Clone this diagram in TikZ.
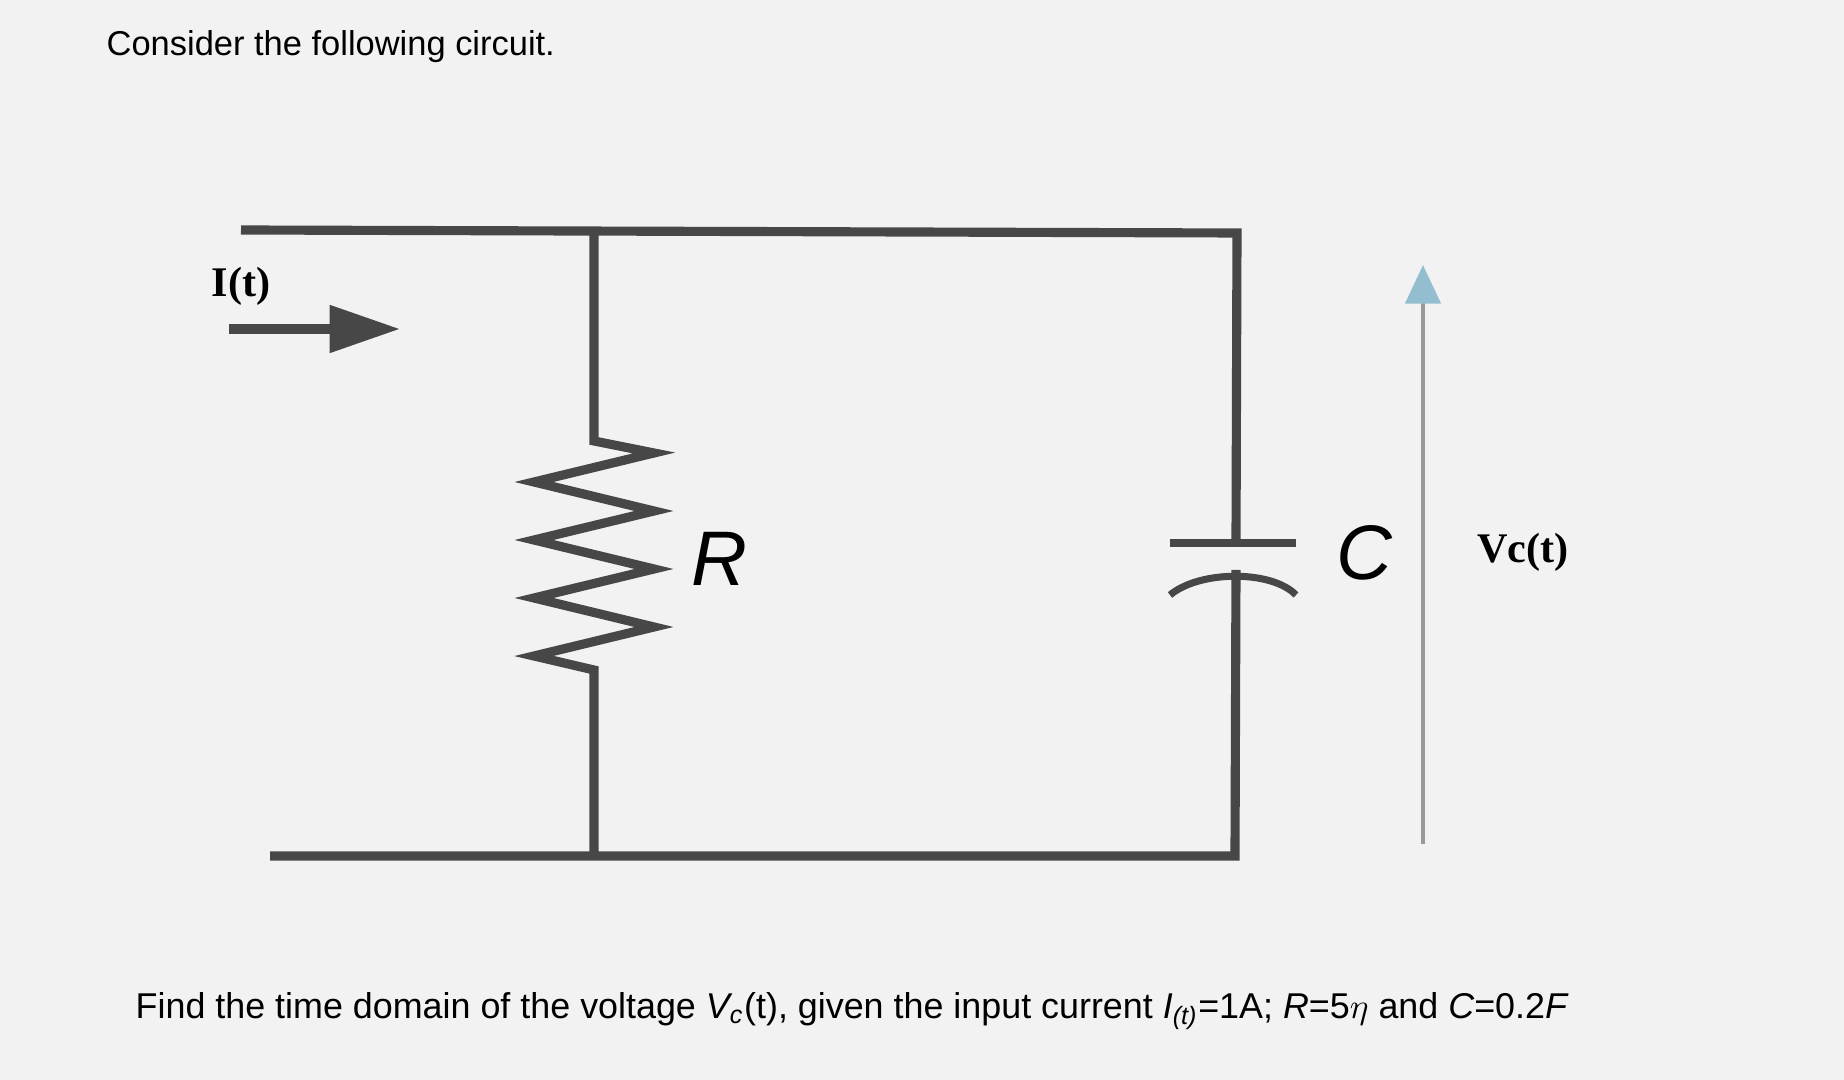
\documentclass[tikz,border=0pt]{standalone}
\usepackage{fontspec}
\setmainfont{Liberation Sans}
\newfontfamily\serifb{Liberation Serif}
\usetikzlibrary{arrows.meta}
\begin{document}
\begin{tikzpicture}[x=0.01cm,y=-0.01cm,
 wire/.style={line width=2.6pt,color=black!72},
 lbl/.style={inner sep=0pt,anchor=center}]
\fill[black!5] (0,0) rectangle (1844,1080);
\useasboundingbox (0,0) rectangle (1844,1080);
\node[lbl,anchor=west] (title) at (106,47) {\fontsize{9.8}{12}\selectfont Consider the following circuit.};
\coordinate (tl) at (241,230);
\coordinate (rt) at (594,230);
\coordinate (ct) at (1237,233);
\coordinate (rb) at (594,856);
\coordinate (cb) at (1235,856);
\coordinate (bl) at (270,856);
\coordinate (r1) at (594,441);
\coordinate (r2) at (594,670);
\coordinate (c1) at (1236,543);
\coordinate (c2) at (1236,570);
\draw[wire] (tl) -- (ct) -- (c1);
\draw[wire] (c2) -- (cb) -- (bl);
\draw[wire,line join=miter] (rt) -- (r1) -- ++(60,12) -- ++(-120,29) -- ++(120,29) -- ++(-120,29) -- ++(120,29) -- ++(-120,29) -- ++(120,29) -- ++(-120,29) -- ++(60,14) -- (r2) -- (rb);
\draw[line width=2pt,black!72] (1170,543) -- (1296,543);
\draw[line width=2pt,black!72] (1170,595) .. controls (1200,570) and (1272,570) .. (1296,595);
\node[lbl] (R) at (719,559) {\fontsize{22}{22}\selectfont\itshape R};
\node[lbl] (C) at (1364,553) {\fontsize{22}{22}\selectfont\itshape C};
\coordinate (va) at (1423,844);
\coordinate (vb) at (1423,265);
\draw[line width=1.2pt,black!40,-{Triangle[length=11pt,width=10pt,fill=cyan!45!gray!70,color=cyan!45!gray!70]}] (va) -- (vb);
\node[lbl] (vc) at (1523,552) {\serifb\bfseries\fontsize{12}{12}\selectfont Vc(t)};
\node[lbl] (it) at (241,286) {\serifb\bfseries\fontsize{12}{12}\selectfont I(t)};
\coordinate (ia) at (229,329);
\coordinate (ib) at (400,329);
\draw[line width=2.6pt,black!72,-{Triangle[length=20pt,width=13pt]}] (ia) -- (ib);
\node[lbl,anchor=west] (q) at (135,1011) {\fontsize{10.2}{12}\selectfont Find the time domain of the voltage \itshape V\textsubscript{c}\upshape(t), given the input current \itshape I\textsubscript{(t)}\upshape=1A; \itshape R\upshape=5\itshape $\eta$\upshape\ and \itshape C\upshape=0.2\itshape F};
\end{tikzpicture}
\end{document}
